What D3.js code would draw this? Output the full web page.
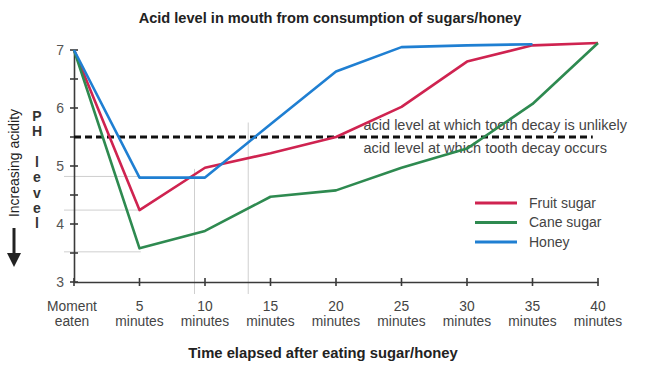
<!DOCTYPE html>
<html><head><meta charset="utf-8">
<script src="https://cdn.jsdelivr.net/npm/d3@7"></script>
<style>
html,body{margin:0;padding:0;background:#fff;}
svg{display:block;font-family:"Liberation Sans",Arial,Helvetica,sans-serif;}
</style></head>
<body><svg id="c" width="672" height="369"></svg>
<script>
// ---- data ----
const minutes = [0, 5, 10, 15, 20, 25, 30, 35, 40];
const tickLine1 = ["Moment", "5", "10", "15", "20", "25", "30", "35", "40"];
const tickLine2 = ["eaten", "minutes", "minutes", "minutes", "minutes", "minutes", "minutes", "minutes", "minutes"];
const fruitSugar = [7, 4.24, 4.97, 5.22, 5.5, 6.02, 6.8, 7.08, 7.12];
const caneSugar  = [7, 3.58, 3.88, 4.47, 4.58, 4.97, 5.3, 6.07, 7.12];
const honey      = [7, 4.8, 4.8, 5.72, 6.63, 7.05, 7.08, 7.1];
const seriesNames = ["Fruit sugar", "Cane sugar", "Honey"];
const yTicks = [3, 4, 5, 6, 7];
const yMinorTicks = [3.5, 4.5, 5.5, 6.5];
const thresholdPH = 5.5;
const thresholdEnd = 39.6;
const labelAbove = "acid level at which tooth decay is unlikely";
const labelBelow = "acid level at which tooth decay occurs";
const guideY = [4.82, 4.24, 3.52];
const guideX = [9.2, 13.3];

const svg = d3.select("#c");
const x = d3.scaleLinear().domain([0, 40]).range([74, 598]);
const y = d3.scaleLinear().domain([3, 7]).range([282, 50]);
const colors = ["#cf2350", "#2e8a50", "#1f7fd2"];
const axisColor = "#3a3a3a";

// title
svg.append("text").attr("x", 330).attr("y", 23).attr("text-anchor", "middle")
  .attr("font-size", 14.6).attr("font-weight", "bold").attr("fill", "#222")
  .text("Acid level in mouth from consumption of sugars/honey");

// faint pencil guides
const g0 = svg.append("g").attr("stroke", "#cfcfcf").attr("stroke-width", 1).attr("fill", "none");
guideY.forEach(v => g0.append("line").attr("x1", x(0) - 10).attr("x2", x(5.1)).attr("y1", y(v)).attr("y2", y(v)));
guideX.forEach((v, i) => g0.append("line").attr("x1", x(v)).attr("x2", x(v))
  .attr("y1", i === 0 ? y(4.95) : y(5.75)).attr("y2", y(3) + 12));

// axes
const yAxis = d3.axisLeft(y).tickValues(yTicks).tickSize(0).tickFormat(d3.format("d"));
const yg = svg.append("g").attr("transform", `translate(${x(0)},0)`).call(yAxis);
yg.select(".domain").attr("stroke", axisColor).attr("stroke-width", 1.6);
yg.selectAll("text").attr("fill", "#555").attr("font-size", 14).attr("x", -10).attr("dy", "0.35em");
const tickG = svg.append("g").attr("stroke", axisColor).attr("stroke-width", 1.6);
yTicks.concat(yMinorTicks).forEach(v => tickG.append("line")
  .attr("x1", x(0) - 4).attr("x2", x(0) + 4).attr("y1", y(v)).attr("y2", y(v)));

const xAxis = d3.axisBottom(x).tickValues(minutes).tickSize(0).tickFormat("");
const xg = svg.append("g").attr("transform", `translate(0,${y(3)})`).call(xAxis);
xg.select(".domain").attr("stroke", axisColor).attr("stroke-width", 1.6);
minutes.forEach(m => tickG.append("line")
  .attr("x1", x(m)).attr("x2", x(m)).attr("y1", y(3) - 4).attr("y2", y(3) + 4));
minutes.forEach((m, i) => {
  const cx = x(m) - (i === 0 ? 2 : 0);
  svg.append("text").attr("text-anchor", "middle").attr("font-size", 13.8).attr("fill", "#444")
    .attr("x", cx).attr("y", 310.5).text(tickLine1[i]);
  svg.append("text").attr("text-anchor", "middle").attr("font-size", 13.8).attr("fill", "#444")
    .attr("x", cx).attr("y", 326).text(tickLine2[i]);
});

// x axis title
svg.append("text").attr("x", 323).attr("y", 358).attr("text-anchor", "middle")
  .attr("font-size", 14.8).attr("font-weight", "bold").attr("fill", "#222")
  .text("Time elapsed after eating sugar/honey");

// y-axis labels
svg.append("text").attr("transform", "translate(19,163) rotate(-90)").attr("text-anchor", "middle")
  .attr("font-size", 14).attr("fill", "#222").text("Increasing acidity");
svg.append("line").attr("x1", 14).attr("x2", 14).attr("y1", 228).attr("y2", 256)
  .attr("stroke", "#222").attr("stroke-width", 3);
svg.append("path").attr("d", "M7,253 L21,253 L14,267 Z").attr("fill", "#222");
const phLetters = ["P", "H", "", "l", "e", "v", "e", "l"];
phLetters.forEach((c, i) => svg.append("text").attr("x", 37).attr("y", 121 + i * 15.3)
  .attr("text-anchor", "middle").attr("font-size", 14).attr("font-weight", "bold").attr("fill", "#333").text(c));

// threshold line
svg.append("line").attr("x1", x(0)).attr("x2", x(thresholdEnd)).attr("y1", y(thresholdPH)).attr("y2", y(thresholdPH))
  .attr("stroke", "#111").attr("stroke-width", 3).attr("stroke-dasharray", "7,4");
svg.append("text").attr("x", x(22.1)).attr("y", y(thresholdPH) - 7).attr("font-size", 14.5).attr("fill", "#444").text(labelAbove);
svg.append("text").attr("x", x(22.1)).attr("y", y(thresholdPH) + 15.5).attr("font-size", 14.5).attr("fill", "#444").text(labelBelow);

// series lines
const line = d3.line().x((d, i) => x(minutes[i])).y(d => y(d));
[fruitSugar, caneSugar, honey].forEach((s, k) => {
  svg.append("path").datum(s).attr("d", line).attr("fill", "none")
    .attr("stroke", colors[k]).attr("stroke-width", 2.6).attr("stroke-linejoin", "round");
});

// legend
seriesNames.forEach((n, k) => {
  const ly = 203 + k * 19.5;
  svg.append("line").attr("x1", 475).attr("x2", 517).attr("y1", ly).attr("y2", ly)
    .attr("stroke", colors[k]).attr("stroke-width", 3);
  svg.append("text").attr("x", 529).attr("y", ly).attr("dy", "0.35em").attr("font-size", 14)
    .attr("fill", "#444").text(n);
});
</script></body></html>
